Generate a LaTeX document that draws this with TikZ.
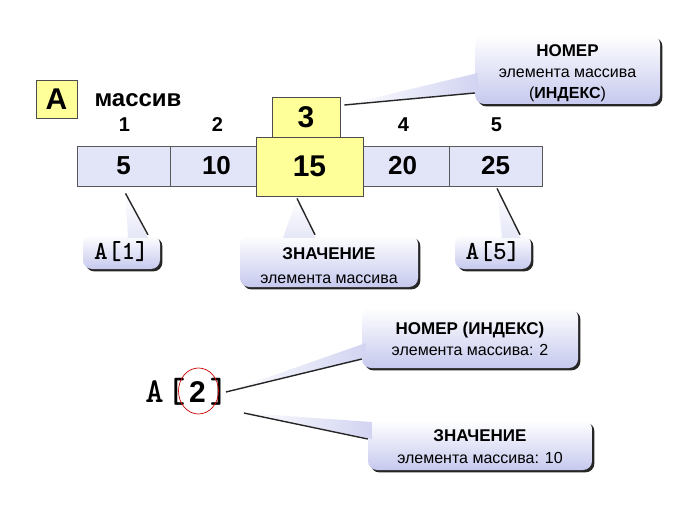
\documentclass[tikz,border=0pt]{standalone}
\usepackage{fontspec}
\setmainfont{Liberation Sans}
\newfontfamily\codefont{lmmonolt10-bold}[Extension=.otf]
\usepackage{tikz}
\usetikzlibrary{calc,shadows,shapes.geometric}
\definecolor{cellfill}{RGB}{226,228,247}
\definecolor{markyellow}{RGB}{255,255,153}
\definecolor{callblue}{RGB}{198,201,238}
\newcommand{\fsz}[1]{\fontsize{#1}{#1}\selectfont}
\newcommand{\slot}[1]{\makebox[21.5pt]{#1}}

\begin{document}
\begin{tikzpicture}[x=1pt,y=-1pt,
    cell/.style={draw=black!65,fill=cellfill,line width=0.8pt,minimum width=93pt,minimum height=40pt,inner sep=0pt,font=\bfseries\fsz{26}},
    markbox/.style={draw=black!70,fill=markyellow,line width=0.8pt,inner sep=0pt,font=\bfseries\fsz{30}},
    idx/.style={font=\bfseries\fsz{20}},
    callout/.style={rounded corners=9pt,top color=white,bottom color=callblue,inner sep=2pt,align=center,
        font=\fontsize{16}{21}\selectfont,
        drop shadow={shadow xshift=2.4pt,shadow yshift=-2.4pt,fill=black!85,opacity=1}},
    sidewedge/.style={left color=white,right color=callblue!80},
    upwedge/.style={top color=white,bottom color=callblue!45},
    wedgeedge/.style={line width=1.4pt,black!85}]
    \path[use as bounding box] (0,0) rectangle (680,505);
    \node[markbox,minimum width=41pt,minimum height=38pt] (arr) at (56.5,99) {A};
    \node[font=\bfseries\fsz{24}] (title) at (138,100) {массив};
    \foreach \i/\v in {1/5,2/10,4/20,5/25}{
        \node[cell] (cell\i) at ({30.5+93*\i},166) {\v};
        \node[idx] (idx\i) at ({31.5+93*\i},125) {\i};
    }
    \node[markbox,minimum width=68pt,minimum height=40pt] (idx3) at (306,117) {3};
    \node[markbox,minimum width=107pt,minimum height=59pt] (cell3) at (309.5,166.5) {15};

    \node[callout,minimum width=185pt,minimum height=69pt] (idxnote) at (567.5,69.5)
        {{\rule{0pt}{19pt}\bfseries\fsz{17}НОМЕР}\\элемента массива\\(\textbf{ИНДЕКС})};
    \coordinate (idxtip) at ($(idx3.east)+(4,-12)$);
    \path[sidewedge] (idxtip) -- ($(idxnote.west)+(3,3.5)$) -- ($(idxnote.west)+(3,23.5)$) -- cycle;
    \draw[wedgeedge] (idxtip) -- ($(idxnote.west)+(0,23.5)$);

    \node[callout,minimum width=77pt,minimum height=34pt,font=\codefont\fsz{26}] (first) at (121.5,252) {A[1]};
    \coordinate (firsttip) at ($(cell1.south)+(2,7)$);
    \path[upwedge] (firsttip) -- ($(first.north)+(6.5,3)$) -- ($(first.north)+(26.5,3)$) -- cycle;
    \draw[wedgeedge] (firsttip) -- ($(first.north)+(26.5,0)$);

    \node[callout,minimum width=178pt,minimum height=52pt] (valnote) at (329,261)
        {{\rule{0pt}{21pt}\bfseries\fsz{17}ЗНАЧЕНИЕ}\\[3pt]элемента массива};
    \coordinate (valtip) at ($(cell3.south)+(-12.5,2)$);
    \path[upwedge] (valtip) -- ($(valnote.north)+(-46,3)$) -- ($(valnote.north)+(-14,3)$) -- cycle;
    \draw[wedgeedge] (valtip) -- ($(valnote.north)+(-14,0)$);

    \node[callout,minimum width=76pt,minimum height=34pt,font=\codefont\fsz{26}] (last) at (493,252) {A[5]};
    \coordinate (lasttip) at ($(cell5.south)+(1.5,2)$);
    \path[upwedge] (lasttip) -- ($(last.north)+(9,3)$) -- ($(last.north)+(27,3)$) -- cycle;
    \draw[wedgeedge] (lasttip) -- ($(last.north)+(27,0)$);

    \node[font=\codefont\fsz{35},anchor=west,inner sep=0pt] (elem) at (143.5,392)
        {\slot{A}\slot{[}\slot{\rmfamily\bfseries\fsz{30}2}\slot{]}};
    \node[draw=red!80!black,ellipse,line width=0.7pt,minimum width=40pt,minimum height=46pt,inner sep=0pt] (ring) at (198.5,391) {};

    \node[callout,minimum width=216pt,minimum height=60pt] (idxnote2) at (470,338)
        {{\rule{0pt}{15pt}\bfseries\fsz{17}НОМЕР (ИНДЕКС)}\\элемента массива: 2};
    \coordinate (elemtip) at ($(elem.east)+(-4,0)$);
    \path[sidewedge] (elemtip) -- ($(idxnote2.west)+(4,5)$) -- ($(idxnote2.west)+(4,21)$) -- cycle;
    \draw[wedgeedge] (elemtip) -- ($(idxnote2.west)+(0,21)$);

    \node[callout,minimum width=224pt,minimum height=50pt] (valnote2) at (480,445)
        {{\rule{0pt}{15pt}\bfseries\fsz{17}ЗНАЧЕНИЕ}\\[1pt]элемента массива: 10};
    \coordinate (valtip2) at ($(elem.east)+(14,21)$);
    \path[sidewedge] (valtip2) -- ($(valnote2.west)+(4,-23)$) -- ($(valnote2.west)+(4,-6)$) -- cycle;
    \draw[wedgeedge] (valtip2) -- ($(valnote2.west)+(0,-6)$);
\end{tikzpicture}
\end{document}
